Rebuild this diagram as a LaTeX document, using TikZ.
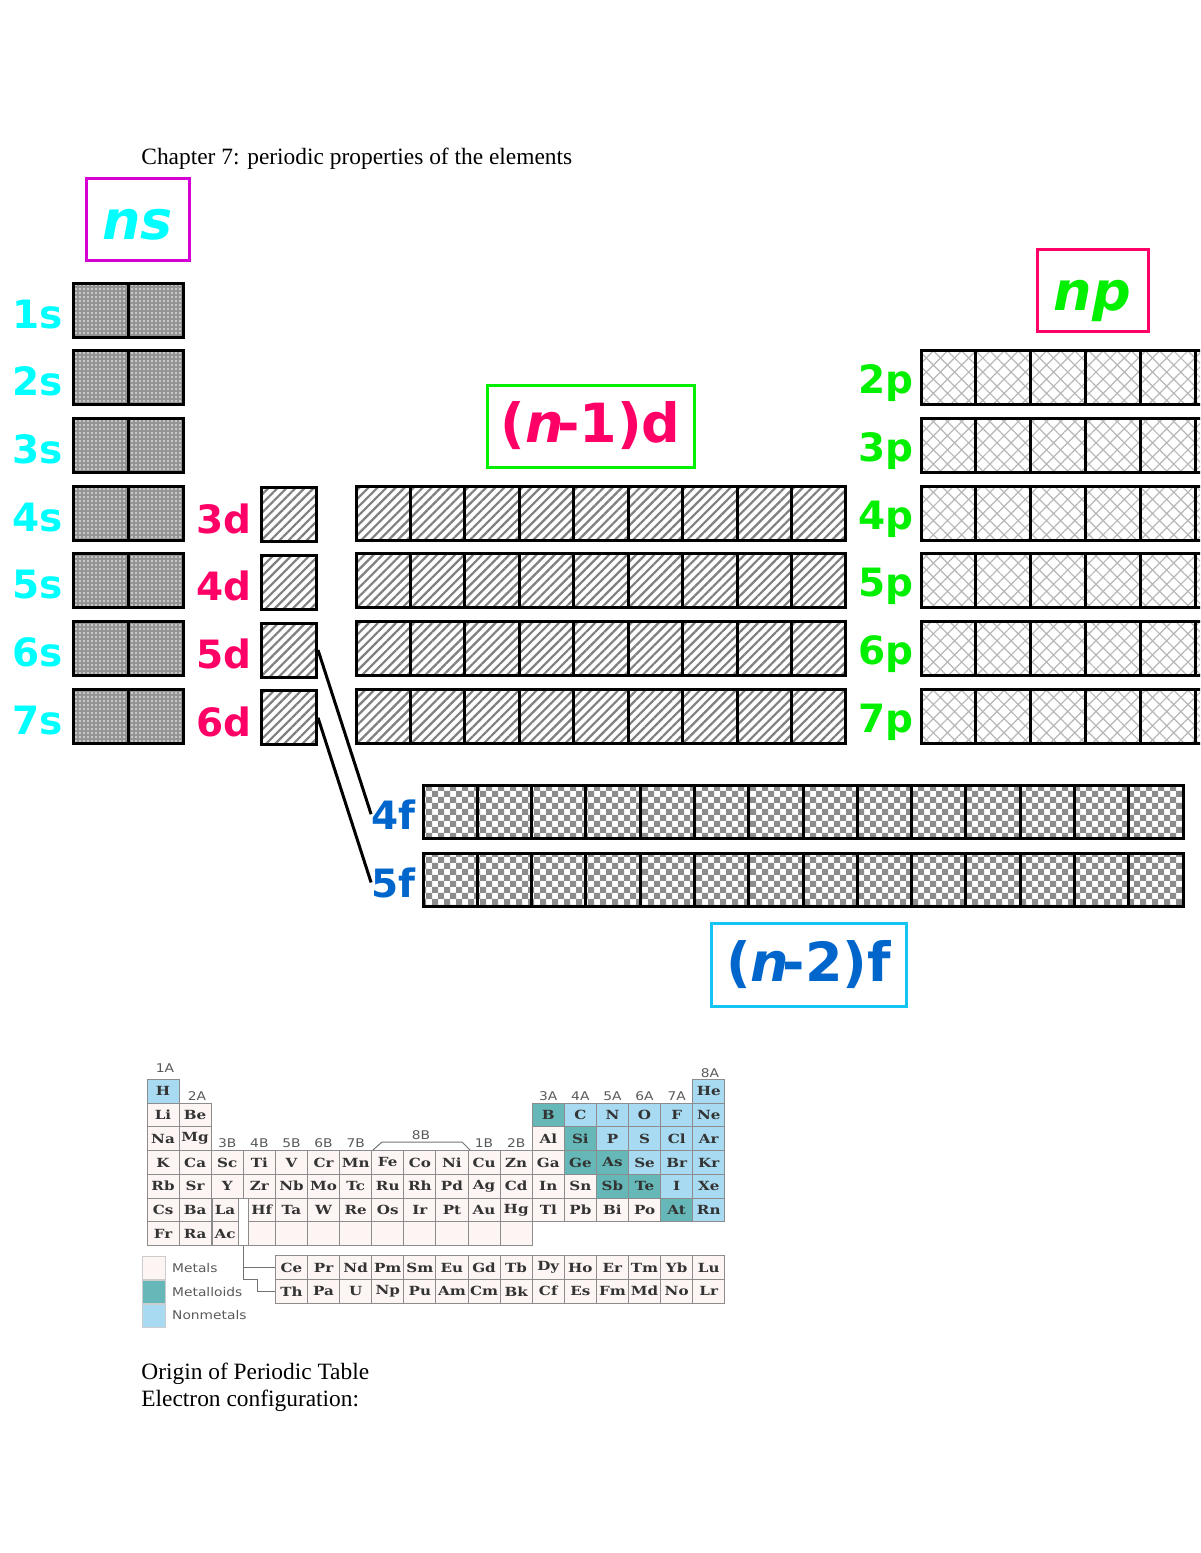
\documentclass[tikz,border=0pt]{standalone}
\usepackage{fontspec}
\setmainfont{Liberation Serif}
\newfontfamily\orbfont{DejaVu Sans}
\newfontfamily\elfont[FakeStretch=1.2]{DejaVu Serif}
\newfontfamily\grpfont[FakeStretch=1.15]{DejaVu Sans}
\usetikzlibrary{patterns,patterns.meta,positioning}

\definecolor{scyan}{HTML}{00FFFF}
\definecolor{nsframe}{HTML}{D400D4}
\definecolor{dred}{HTML}{FF0066}
\definecolor{pgreen}{HTML}{00F000}
\definecolor{fblue}{HTML}{0066CC}
\definecolor{fframe}{HTML}{14C4F2}
\definecolor{metc}{HTML}{FCF5F3}
\definecolor{semic}{HTML}{66B8B8}
\definecolor{nonc}{HTML}{A8DAF1}

% checkerboard fill of the f cells
\pgfdeclarepatternformonly{checker}{\pgfqpoint{-0.1pt}{-0.1pt}}{\pgfqpoint{6.1pt}{6.1pt}}{\pgfqpoint{6pt}{6pt}}{%
  \pgfpathrectangle{\pgfqpoint{0pt}{0pt}}{\pgfqpoint{3pt}{3pt}}%
  \pgfpathrectangle{\pgfqpoint{3pt}{3pt}}{\pgfqpoint{3pt}{3pt}}%
  \pgfusepath{fill}}

\tikzset{
    cell/.style={draw=black, line width=1.5pt}, % one orbital box
    scell/.style={cell, preaction={fill=black!42}, preaction={pattern={Dots[distance=2pt,radius=0.45pt]}, pattern color=white}},
    dcell/.style={cell, preaction={fill=white}, preaction={pattern={Lines[angle=45,distance=3.2pt,line width=1.1pt]}, pattern color=black!50}},
    pcell/.style={cell, preaction={fill=white}, preaction={pattern={Hatch[angle=45,distance=5pt,line width=0.6pt]}, pattern color=black!28}},
    fcell/.style={cell, preaction={fill=white}, preaction={pattern=checker, pattern color=black!45}},
    orb/.style={font=\orbfont\bfseries\fontsize{19.5}{20}\selectfont, inner sep=0pt, anchor=base east},
    title box/.style={draw, line width=1.5pt, inner sep=0pt, font=\orbfont\bfseries\fontsize{27}{28}\selectfont},
    low text/.style={text height=20pt, text depth=0pt},
    el/.style={draw=black!45, line width=0.5pt, inner sep=0pt, minimum width=16.05pt, minimum height=11.85pt,
               font=\elfont\bfseries\fontsize{6.3}{7}\selectfont, text=black!80},
    grp/.style={font=\grpfont\fontsize{6}{7}\selectfont, text=black!65, inner sep=0pt},
    serif text/.style={font=\fontsize{11.7}{13}\selectfont, inner sep=0pt, anchor=base west}
}

\begin{document}
\begin{tikzpicture}[x=0.5pt, y=-0.5pt]
    \clip (0,0) rectangle (1200,1553);

    \node[serif text] (title) at (141,164) {Chapter 7: periodic properties of the elements};

    % block titles
    \node[title box, low text, draw=nsframe, text=scyan, minimum width=51.5pt, minimum height=41pt] (ns) at (137.5,219) {\itshape ns};
    \node[title box, low text, draw=dred, text=pgreen, minimum width=55.5pt, minimum height=41pt] (np) at (1092.5,290) {\itshape np};
    \node[title box, draw=pgreen, text=dred, minimum width=103.5pt, minimum height=41pt] (nd) at (590.5,426) {(\textit{n}\kern-0.12em-1)d};
    \node[title box, draw=fframe, text=fblue, minimum width=97.5pt, minimum height=41.5pt] (nf) at (808.5,964.5) {(\textit{n}\kern-0.12em-2)f};

    % s block
    \foreach \n in {1,...,7} {
        \pgfmathsetmacro\y{283+67.7*(\n-1)}
        \draw[scell] (73,\y) rectangle ++(55,54);
        \draw[scell] (128,\y) rectangle ++(55,54);
        \node[orb, text=scyan] (s\n) at (63,\y+45) {\n s};
    }

    % d block
    \foreach \n [evaluate=\n as \m using int(\n-1)] in {4,...,7} {
        \pgfmathsetmacro\y{283+67.7*(\n-1)}
        \node[dcell, anchor=north west, minimum width=27.5pt, minimum height=27pt] (d\m) at (260,\y) {};
        \node[orb, text=dred] (d\m lab) at (252,\y+47) {\m d};
        \foreach \j in {0,...,8}
            \draw[dcell] ({356+54.44*\j},\y) rectangle ++(54.44,54);
    }

    % p block
    \foreach \n in {2,...,7} {
        \pgfmathsetmacro\y{283+67.7*(\n-1)}
        \node[orb, text=pgreen] (p\n) at (914,\y+43) {\n p};
        \foreach \j in {0,...,5}
            \draw[pcell] ({921+54.8*\j},\y) rectangle ++(54.8,54);
    }

    % f block
    \foreach \n/\y in {4/785, 5/853} {
        \node[orb, text=fblue] (f\n) at (416,\y+44) {\n f};
        \foreach \j in {0,...,13}
            \draw[fcell] ({423+54.29*\j},\y) rectangle ++(54.29,53);
    }

    \draw[line width=1.5pt] (d5.east) -- (f4.west);
    \draw[line width=1.5pt] (d6.east) -- (f5.west);

    % small periodic table
    \foreach \row/\col/\sym/\kind in {
        1/1/H/nonc, 1/18/He/nonc,
        2/1/Li/metc, 2/2/Be/metc, 2/13/B/semic, 2/14/C/nonc, 2/15/N/nonc, 2/16/O/nonc, 2/17/F/nonc, 2/18/Ne/nonc,
        3/1/Na/metc, 3/2/Mg/metc, 3/13/Al/metc, 3/14/Si/semic, 3/15/P/nonc, 3/16/S/nonc, 3/17/Cl/nonc, 3/18/Ar/nonc,
        4/1/K/metc, 4/2/Ca/metc, 4/3/Sc/metc, 4/4/Ti/metc, 4/5/V/metc, 4/6/Cr/metc, 4/7/Mn/metc, 4/8/Fe/metc,
        4/9/Co/metc, 4/10/Ni/metc, 4/11/Cu/metc, 4/12/Zn/metc, 4/13/Ga/metc, 4/14/Ge/semic, 4/15/As/semic,
        4/16/Se/nonc, 4/17/Br/nonc, 4/18/Kr/nonc,
        5/1/Rb/metc, 5/2/Sr/metc, 5/3/Y/metc, 5/4/Zr/metc, 5/5/Nb/metc, 5/6/Mo/metc, 5/7/Tc/metc, 5/8/Ru/metc,
        5/9/Rh/metc, 5/10/Pd/metc, 5/11/Ag/metc, 5/12/Cd/metc, 5/13/In/metc, 5/14/Sn/metc, 5/15/Sb/semic,
        5/16/Te/semic, 5/17/I/nonc, 5/18/Xe/nonc,
        6/1/Cs/metc, 6/2/Ba/metc, 6/5/Ta/metc, 6/6/W/metc, 6/7/Re/metc, 6/8/Os/metc, 6/9/Ir/metc, 6/10/Pt/metc,
        6/11/Au/metc, 6/12/Hg/metc, 6/13/Tl/metc, 6/14/Pb/metc, 6/15/Bi/metc, 6/16/Po/metc, 6/17/At/semic, 6/18/Rn/nonc,
        7/1/Fr/metc, 7/2/Ra/metc}
        \node[el, fill=\kind] (e-\sym) at ({147+32.1*(\col-0.5)},{1079.5+23.7*(\row-0.5)}) {\sym};
    \foreach \col in {5,...,12}
        \node[el, fill=metc] (e7-\col) at ({147+32.1*(\col-0.5)},{1079.5+23.7*6.5}) {};
    % narrow La / Ac column and the gap
    \node[el, fill=metc, minimum width=13pt] (e-La) at (225,{1079.5+23.7*5.5}) {La};
    \node[el, fill=metc, minimum width=13pt] (e-Ac) at (225,{1079.5+23.7*6.5}) {Ac};
    \node[el, fill=metc, minimum width=13.7pt] (e-Hf) at (261.7,{1079.5+23.7*5.5}) {Hf};
    \node[el, fill=metc, minimum width=13.7pt] (e7-4) at (261.7,{1079.5+23.7*6.5}) {};
    \node[el, fill=white, minimum width=5pt, minimum height=23.7pt] (gap) at (243,{1079.5+23.7*6}) {};

    % lanthanides and actinides
    \foreach \sym [count=\i from 5] in {Ce,Pr,Nd,Pm,Sm,Eu,Gd,Tb,Dy,Ho,Er,Tm,Yb,Lu}
        \node[el, fill=metc] (e-\sym) at ({147+32.1*(\i-0.5)},1267.7) {\sym};
    \foreach \sym [count=\i from 5] in {Th,Pa,U,Np,Pu,Am,Cm,Bk,Cf,Es,Fm,Md,No,Lr}
        \node[el, fill=metc] (e-\sym) at ({147+32.1*(\i-0.5)},1291.2) {\sym};
    \draw[black!55, line width=0.5pt] (gap.south) |- (e-Ce.west);
    \draw[black!55, line width=0.5pt] (gap.south) -- ++(0,34) -- ++(14,0) |- (e-Th.west);

    % group labels
    \node[grp] (g1A) at (165,1068) {1A};
    \node[grp] (g2A) at (197,1096) {2A};
    \foreach \col/\g in {3/3B, 4/4B, 5/5B, 6/6B, 7/7B, 11/1B, 12/2B}
        \node[grp] (g\g) at ({147+32.1*(\col-0.5)},1143) {\g};
    \foreach \col/\g in {13/3A, 14/4A, 15/5A, 16/6A, 17/7A}
        \node[grp] (g\g) at ({147+32.1*(\col-0.5)},1096) {\g};
    \node[grp] (g8A) at (710,1073) {8A};
    \node[grp] (g8B) at (421,1135) {8B};
    \draw[black!55, line width=0.5pt] (373,1150) -- (382,1142) -- (462,1142) -- (470,1150);

    % legend
    \node[draw=black!20, fill=metc, minimum size=11.5pt, inner sep=0pt, anchor=north west] (lmet) at (142,1256) {};
    \node[draw=black!20, fill=semic, minimum size=11.5pt, inner sep=0pt, below=0pt of lmet] (lsemi) {};
    \node[draw=black!20, fill=nonc, minimum size=11.5pt, inner sep=0pt, below=0pt of lsemi] (lnon) {};
    \node[grp, anchor=west, right=3pt of lmet] (lmet lab) {Metals};
    \node[grp, anchor=west, right=3pt of lsemi] (lsemi lab) {Metalloids};
    \node[grp, anchor=west, right=3pt of lnon] (lnon lab) {Nonmetals};

    \node[serif text] (origin) at (141,1379) {Origin of Periodic Table};
    \node[serif text] (config) at (141,1406) {Electron configuration:};
\end{tikzpicture}
\end{document}
